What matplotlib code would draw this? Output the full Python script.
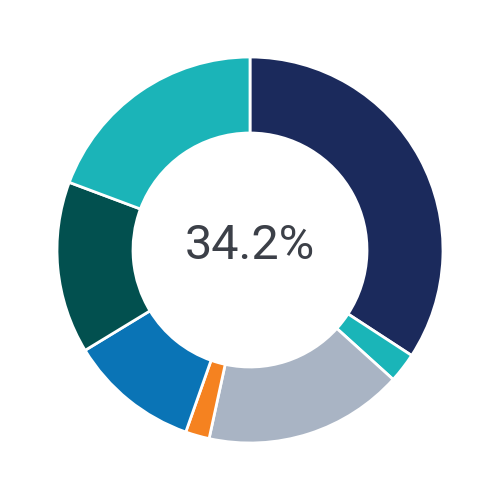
import matplotlib
matplotlib.use("Agg")
from matplotlib import pyplot as plt

# slice shares, clockwise from 12 o'clock
labels = ["Navy", "Teal small", "Gray", "Orange", "Blue", "Dark green", "Teal"]
shares = [34.2, 2.5, 16.7, 2.0, 10.9, 14.4, 19.3]
colors = ["#1b2a5c", "#1ab5b8", "#a9b4c4", "#f58220", "#0a74b6", "#02504f", "#1bb4b8"]
center_text = "34.2%"

fig = plt.figure(figsize=(5, 5), dpi=100)
ax = fig.add_axes([0, 0, 1, 1])

ax.pie(shares, colors=colors, startangle=90, counterclock=False,
       radius=0.772,
       wedgeprops=dict(width=0.304, edgecolor="white", linewidth=2))

ax.text(0, 0.015, center_text, ha="center", va="center", fontsize=35,
        color="#3c4048", family=["Roboto", "DejaVu Sans"])

ax.set_xlim(-1, 1)
ax.set_ylim(-1, 1)
ax.set_aspect("equal")
ax.axis("off")

fig.savefig("out.png", dpi=100, facecolor="white")
